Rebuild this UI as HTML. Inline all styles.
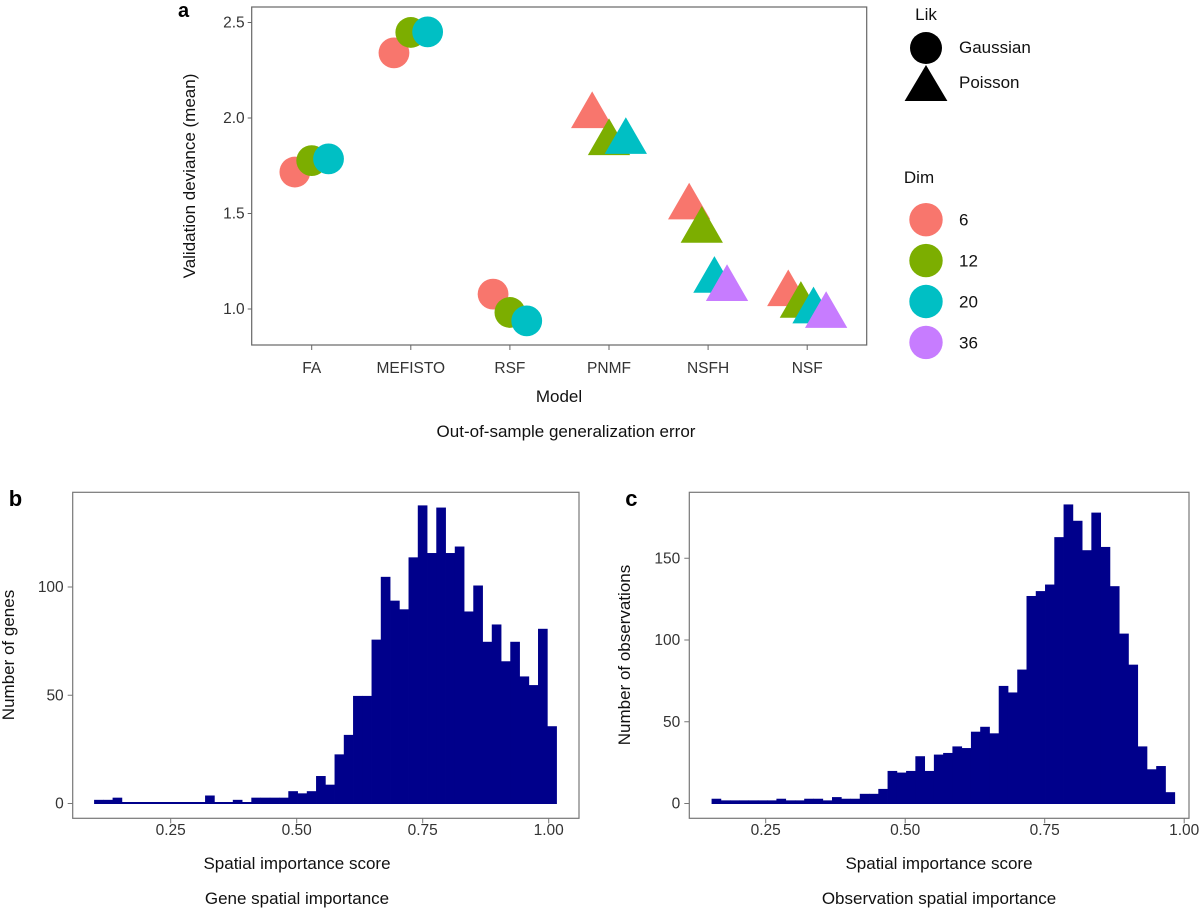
<!DOCTYPE html>
<html><head><meta charset="utf-8"><style>
body{margin:0;background:#fff}
svg{display:block;font-family:"Liberation Sans",sans-serif}
.tick{font-size:15.5px;fill:#333}
.ttl{font-size:17px;fill:#111}
</style></head><body>
<svg id="fig" width="1200" height="908" viewBox="0 0 1200 908" xmlns="http://www.w3.org/2000/svg">
<g id="pa"></g>
<g id="pb"></g>
<g id="pc"></g>
</svg>
<script>
// Panel a data
const models = ["FA","MEFISTO","RSF","PNMF","NSFH","NSF"];
const dims = [6,12,20,36];
const dimColors = ["#F8766D","#7CAE00","#00BFC4","#C77CFF"];
const lik = ["Gaussian","Gaussian","Gaussian","Poisson","Poisson","Poisson"];
const dev6  = [1.717,2.341,1.078,2.043,1.565,1.111];
const dev12 = [1.777,2.448,0.982,1.902,1.443,1.050];
const dev20 = [1.786,2.451,0.938,1.908,1.181,1.021];
const dev36 = [null,null,null,null,1.138,0.997];
const aTicks = [1.0,1.5,2.0,2.5];

// Panel b data
const geneBinStart = 0.098;
const geneBinWidth = 0.01835;
const geneCounts = [1,1,2,0,0,0,0,0,0,0,0,0,3,0,0,1,0,2,2,2,2,5,4,5,12,8,22,31,49,49,75,104,93,89,113,137,115,136,115,118,88,100,74,82,65,74,58,54,80,35];
const bTicksY = [0,50,100];
const bTicksX = [0.25,0.50,0.75,1.00];

// Panel c data
const obsBinStart = 0.153;
const obsBinWidth = 0.0166;
const obsCounts = [2,1,1,1,1,1,1,2,1,1,2,2,1,3,2,2,5,5,8,19,18,19,28,19,29,30,34,33,43,46,42,71,67,81,126,129,133,162,182,172,154,177,156,132,103,84,34,20,22,6];
const cTicksY = [0,50,100,150];
const cTicksX = [0.25,0.50,0.75,1.00];

const NS="http://www.w3.org/2000/svg";
function mk(parent,tag,attrs,text){const e=document.createElementNS(NS,tag);for(const k in attrs)e.setAttribute(k,attrs[k]);if(text!==undefined)e.textContent=text;parent.appendChild(e);return e;}

// ---------- Panel a ----------
(function(){
const g=document.getElementById('pa');
const L=251.7,T=7,R=866.7,B=345;
const y=v=>309-(v-1.0)*191;
const xc=i=>311.7+i*99.1;
let t=mk(g,'text',{x:178,y:17,'font-size':20,'font-weight':'bold',fill:'#000'},'a');

let fr=mk(g,'rect',{x:L,y:T,width:R-L,height:B-T,fill:'none',stroke:'#666','stroke-width':1.2});

aTicks.forEach(v=>{
 const l=mk(g,'line',{x1:L-4,x2:L,y1:y(v),y2:y(v),stroke:'#666'});
 
 const tx=mk(g,'text',{x:L-7,y:y(v)+5,'text-anchor':'end',class:'tick'},v.toFixed(1));
 
});
models.forEach((m,i)=>{
 const l=mk(g,'line',{x1:xc(i),x2:xc(i),y1:B,y2:B+5,stroke:'#666'});
 
 const tx=mk(g,'text',{x:xc(i),y:373,'text-anchor':'middle',class:'tick'},m);
 
});
let yt=mk(g,'text',{x:0,y:0,'text-anchor':'middle',class:'ttl',transform:'translate(195,176) rotate(-90)'},'Validation deviance (mean)');

let xt=mk(g,'text',{x:559,y:402,'text-anchor':'middle',class:'ttl'},'Model');

let cap=mk(g,'text',{x:566,y:437,'text-anchor':'middle',class:'ttl'},'Out-of-sample generalization error');

const series=[dev6,dev12,dev20,dev36];
const W=50.5;
function tri(cx,cy,c,w,h){return mk(g,'polygon',{points:`${cx},${cy-h/2} ${cx-w/2},${cy+h/2} ${cx+w/2},${cy+h/2}`,fill:c});}
series.forEach((s,d)=>{
 s.forEach((v,i)=>{
  if(v===null)return;
  let n=series.filter(ss=>ss[i]!==null).length;
  let k=series.slice(0,d).filter(ss=>ss[i]!==null).length;
  let off=(k-(n-1)/2)*W/n;
  let cx=xc(i)+off,cy=y(v);
  let e;
  if(lik[i]==="Gaussian") e=mk(g,'circle',{cx:cx,cy:cy,r:15.4,fill:dimColors[d]});
  else e=tri(cx,cy,dimColors[d],42.3,36.7);
  
  
 });
});
// legend
let lt=mk(g,'text',{x:926,y:20,'text-anchor':'middle',class:'ttl'},'Lik');

let lc=mk(g,'circle',{cx:926,cy:48,r:16,fill:'#000'});

let ltr=mk(g,'polygon',{points:'926,65 904.6,101 947.4,101',fill:'#000'});

let lg=mk(g,'text',{x:959,y:53,class:'ttl'},'Gaussian');

let lp=mk(g,'text',{x:959,y:88,class:'ttl'},'Poisson');

let dt=mk(g,'text',{x:919,y:183,'text-anchor':'middle',class:'ttl'},'Dim');

dims.forEach((d,i)=>{
 const cy=219.7+i*40.9;
 const c=mk(g,'circle',{cx:926,cy:cy,r:16.7,fill:dimColors[i]});
 
 const tx=mk(g,'text',{x:959,y:cy+6,class:'ttl'},String(d));
 
});
})();

// ---------- Histograms ----------
function hist(gid,letter,L,R,x0val,xPerUnit,x0px,yPerCount,counts,start,width,yt,xt,ytitle,ytitleX,xtitle,caption,centerX){
 const g=document.getElementById(gid);
 const T=492.3,B=818.3,base=803.5;
 const x=v=>x0px+(v-x0val)*xPerUnit;
 const y=c=>base-c*yPerCount;
 let t=mk(g,'text',{x:L-64,y:506,'font-size':22,'font-weight':'bold',fill:'#000'},letter);
 
 counts.forEach((c,i)=>{
  const xa=x(start+i*width),xb=x(start+(i+1)*width);
  const r=mk(g,'rect',{x:xa,y:y(c)-1.5,width:xb-xa+0.4,height:c*yPerCount+2,fill:'#00008B'});
  
 });
 let fr=mk(g,'rect',{x:L,y:T,width:R-L,height:B-T,fill:'none',stroke:'#777','stroke-width':1.2});
 
 yt.forEach(v=>{
  const l=mk(g,'line',{x1:L-5,x2:L,y1:y(v),y2:y(v),stroke:'#777'});
  
  const tx=mk(g,'text',{x:L-9,y:y(v)+5,'text-anchor':'end',class:'tick'},String(v));
  
 });
 xt.forEach(v=>{
  const l=mk(g,'line',{x1:x(v),x2:x(v),y1:B,y2:B+5,stroke:'#777'});
  
  const tx=mk(g,'text',{x:x(v),y:835,'text-anchor':'middle',class:'tick'},v.toFixed(2));
  
 });
 let yl=mk(g,'text',{x:0,y:0,'text-anchor':'middle',class:'ttl',transform:`translate(${ytitleX},655) rotate(-90)`},ytitle);
 
 let xl=mk(g,'text',{x:centerX,y:869,'text-anchor':'middle',class:'ttl'},xtitle);
 
 let cp=mk(g,'text',{x:centerX,y:904,'text-anchor':'middle',class:'ttl'},caption);
 
}
hist('pb','b',72.7,579,0.25,504,170.7,2.165,geneCounts,geneBinStart,geneBinWidth,bTicksY,bTicksX,'Number of genes',14,'Spatial importance score','Gene spatial importance',297);
hist('pc','c',689.3,1189,0.25,558,765.7,1.635,obsCounts,obsBinStart,obsBinWidth,cTicksY,cTicksX,'Number of observations',630,'Spatial importance score','Observation spatial importance',939);
</script>
</body></html>
